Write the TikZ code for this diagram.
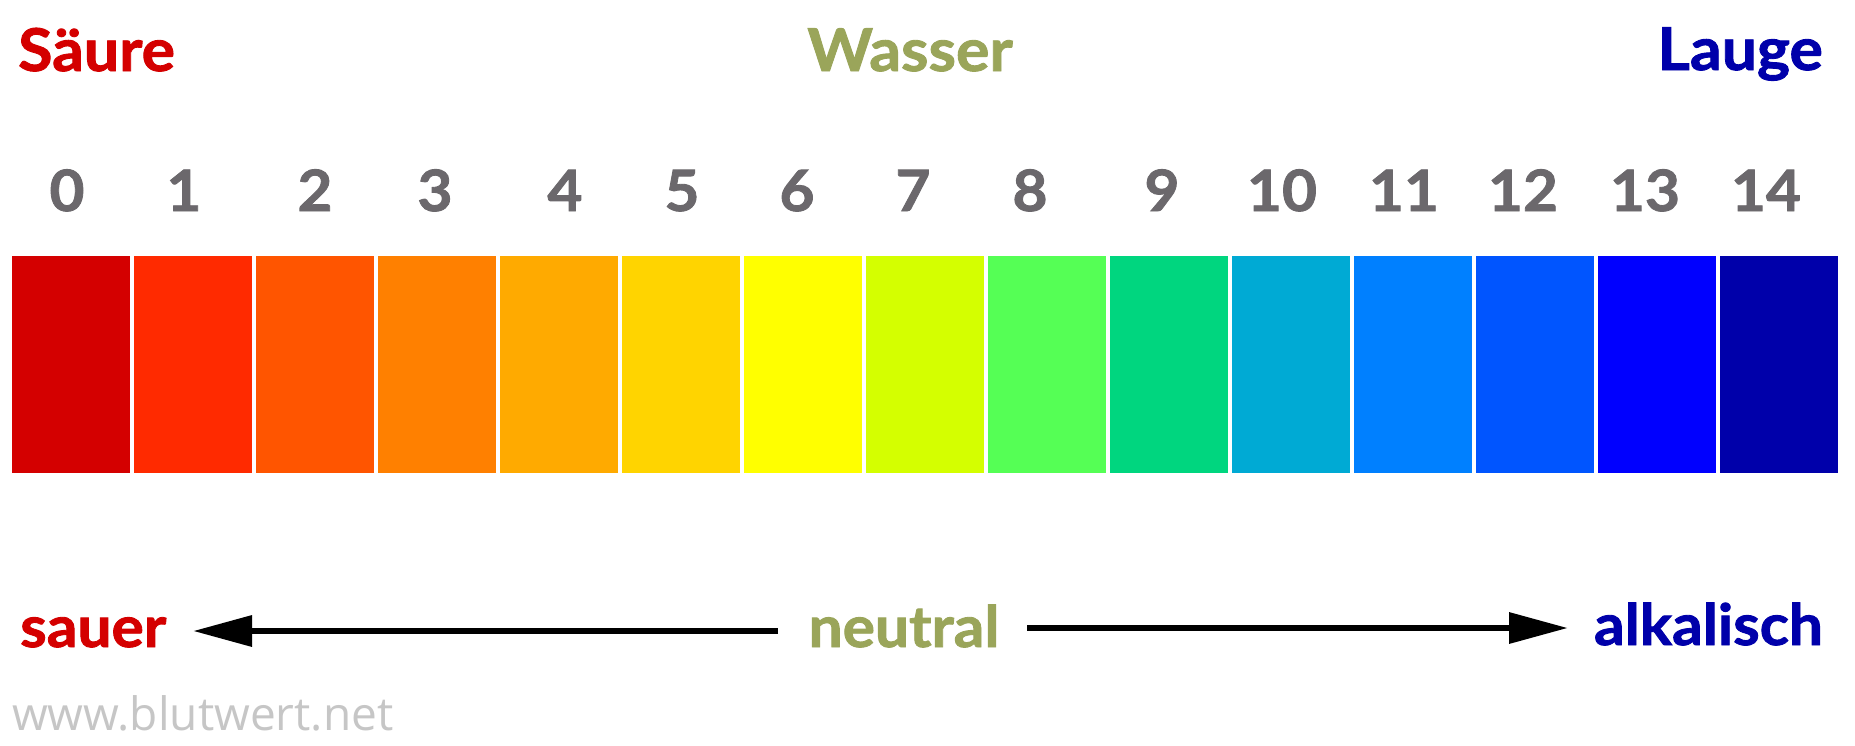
\documentclass[tikz,border=0pt]{standalone}
\usepackage{fontspec}
\setmainfont{Lato}[BoldFeatures={FakeStretch=1.06, FakeBold=1.5}]
\newfontfamily\wwwfont{Open Sans}
\usetikzlibrary{arrows.meta}
\definecolor{c0}{HTML}{D40000}
\definecolor{c1}{HTML}{FF2A00}
\definecolor{c2}{HTML}{FF5500}
\definecolor{c3}{HTML}{FF8000}
\definecolor{c4}{HTML}{FFAA00}
\definecolor{c5}{HTML}{FFD400}
\definecolor{c6}{HTML}{FFFF00}
\definecolor{c7}{HTML}{D4FF00}
\definecolor{c8}{HTML}{55FF55}
\definecolor{c9}{HTML}{00D67F}
\definecolor{c10}{HTML}{00AAD4}
\definecolor{c11}{HTML}{0080FF}
\definecolor{c12}{HTML}{0055FF}
\definecolor{c13}{HTML}{0000FF}
\definecolor{c14}{HTML}{0000AA}
\definecolor{acid}{HTML}{D40000}
\definecolor{water}{HTML}{9AA55A}
\definecolor{base}{HTML}{0000AA}
\definecolor{digit}{HTML}{6B686C}
\definecolor{wwwgray}{HTML}{C6C6C6}
\tikzset{
  lbl/.style={inner sep=0pt, font=\fontsize{59}{60}\selectfont\bfseries},
  lowlbl/.style={inner sep=0pt, font=\fontsize{57}{60}\selectfont\bfseries},
  num/.style={inner sep=0pt, anchor=base, text=digit, font=\fontsize{57}{60}\selectfont\bfseries},
  blk/.style={inner sep=0pt, minimum width=118pt, minimum height=217pt, anchor=north west},
  arr/.style={line width=6.5pt, -{Triangle[length=59pt,width=30pt]}}
}
\begin{document}
\begin{tikzpicture}[x=1pt,y=-1pt]
\fill[white] (0,0) rectangle (1855,745);
\useasboundingbox (0,0) rectangle (1855,745);
% titles
\node[lbl, anchor=base west, text=acid] (saeure) at (18,71) {Säure};
\node[lbl, anchor=base, text=water] (wasser) at (910,71) {Wasser};
\node[lbl, anchor=base east, text=base] (lauge) at (1823,70) {Lauge};
% blocks and numbers
\foreach \i/\nx in {0/67,1/184,2/315,3/435,4/565,5/682,6/797,7/913,8/1030,9/1162,10/1282,11/1404,12/1523,13/1645,14/1766}{
  \node[blk, fill=c\i] (b\i) at (12+122*\i,256) {};
  \node[num] (n\i) at (\nx,211) {\i};
}
% bottom labels
\node[lowlbl, anchor=base west, text=acid] (sauer) at (20,647) {sauer};
\node[lowlbl, anchor=base, text=water] (neutral) at (904,647) {neutral};
\node[lowlbl, anchor=base east, text=base] (alk) at (1823,645) {alkalisch};
\node[inner sep=0pt, anchor=base west, text=wwwgray, font=\wwwfont\fontsize{46}{50}\selectfont] (www) at (12,730) {www.blutwert.net};
% arrows
\coordinate (lstart) at (778,631);
\coordinate (ltip) at (193,631);
\coordinate (rstart) at (1027,628);
\coordinate (rtip) at (1568,628);
\draw[arr] (lstart) -- (ltip);
\draw[arr] (rstart) -- (rtip);
\end{tikzpicture}
\end{document}
